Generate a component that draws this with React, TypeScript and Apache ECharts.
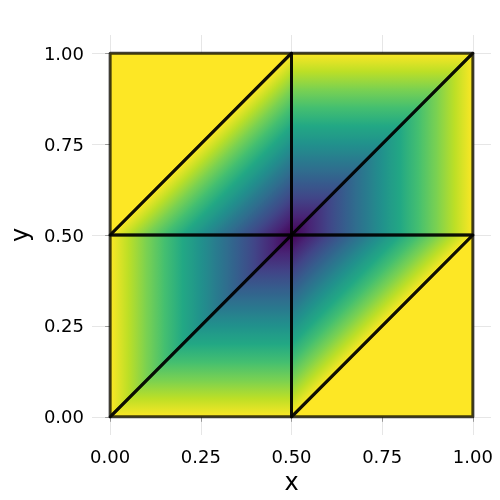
import React, { useEffect, useRef } from "react";
import * as echarts from "echarts";

// Mesh nodes (3x3 grid) and the nodal values of the field
const nodeX = [0, 0.5, 1, 0, 0.5, 1, 0, 0.5, 1];
const nodeY = [0, 0, 0, 0.5, 0.5, 0.5, 1, 1, 1];
const nodeValue = [0, 0, 0, 0, 1, 0, 0, 0, 0];
// Triangles as node index triples
const triangles = [
  [0, 1, 4],
  [0, 4, 3],
  [1, 2, 5],
  [1, 5, 4],
  [3, 4, 7],
  [3, 7, 6],
  [4, 5, 8],
  [4, 8, 7],
];
const tickValues = [0, 0.25, 0.5, 0.75, 1];

// viridis samples (t = 0..1)
const viridis = [
  "#440154", "#482475", "#414487", "#355f8d", "#2a788e", "#21918c",
  "#22a884", "#44bf70", "#7ad151", "#bddf26", "#fde725",
];

function hexToRgb(h: string) {
  return [parseInt(h.slice(1, 3), 16), parseInt(h.slice(3, 5), 16), parseInt(h.slice(5, 7), 16)];
}
function viridisAt(t: number) {
  t = Math.max(0, Math.min(1, t));
  const n = viridis.length - 1;
  const i = Math.min(n - 1, Math.floor(t * n));
  const f = t * n - i;
  const a = hexToRgb(viridis[i]);
  const b = hexToRgb(viridis[i + 1]);
  const c = a.map((v, k) => Math.round(v + (b[k] - v) * f));
  return `rgb(${c[0]},${c[1]},${c[2]})`;
}
// value 1 -> dark purple, value 0 -> yellow
const colorOf = (v: number) => viridisAt(1 - v);

const triData = triangles.map((t) => {
  const row: number[] = [];
  t.forEach((n) => row.push(nodeX[n], nodeY[n], nodeValue[n]));
  return row;
});

export default function App() {
  const ref = useRef<HTMLDivElement>(null);
  useEffect(() => {
    if (!ref.current) return;
    const chart = echarts.init(ref.current, undefined, { renderer: "svg" });

    const fillItem = (params: any, api: any) => {
      const p = [0, 1, 2].map((k) => api.coord([api.value(3 * k), api.value(3 * k + 1)]));
      const v = [0, 1, 2].map((k) => api.value(3 * k + 2) as number);
      const e1 = [p[1][0] - p[0][0], p[1][1] - p[0][1]];
      const e2 = [p[2][0] - p[0][0], p[2][1] - p[0][1]];
      const d1 = v[1] - v[0];
      const d2 = v[2] - v[0];
      const det = e1[0] * e2[1] - e1[1] * e2[0];
      const gx = (d1 * e2[1] - d2 * e1[1]) / det;
      const gy = (e1[0] * d2 - e2[0] * d1) / det;
      const g2 = gx * gx + gy * gy;
      let fill: any;
      if (g2 < 1e-12) {
        fill = colorOf(v[0]);
      } else {
        let iMin = 0;
        for (let k = 1; k < 3; k++) if (v[k] < v[iMin]) iMin = k;
        const vmin = v[iMin];
        const vmax = Math.max(v[0], v[1], v[2]);
        const s = (vmax - vmin) / g2;
        const S = p[iMin];
        const E = [S[0] + gx * s, S[1] + gy * s];
        const stops = [];
        const N = 40;
        for (let i = 0; i <= N; i++) {
          stops.push({ offset: i / N, color: colorOf(vmin + ((vmax - vmin) * i) / N) });
        }
        fill = new echarts.graphic.LinearGradient(S[0], S[1], E[0], E[1], stops, true);
      }
      return {
        type: "polygon",
        shape: { points: p },
        style: { fill, stroke: fill, lineWidth: 0.6 },
      };
    };

    const strokeItem = (params: any, api: any) => {
      const p = [0, 1, 2].map((k) => api.coord([api.value(3 * k), api.value(3 * k + 1)]));
      return {
        type: "polygon",
        shape: { points: p },
        style: { fill: "none", stroke: "rgba(0,0,0,0.75)", lineWidth: 3, lineJoin: "round" },
      };
    };

    const axisCommon = {
      type: "value",
      min: -0.05,
      max: 1.05,
      axisLine: { show: false },
      axisTick: {
        show: true,
        customValues: tickValues,
        length: 5,
        lineStyle: { color: "#9a9a9a", width: 1 },
      },
      splitLine: { show: true, lineStyle: { color: "#e6e6e6", width: 1 } },
      nameLocation: "middle",
      nameTextStyle: { fontFamily: "DejaVu Sans", fontSize: 24, color: "#000" },
    };

    const labelCommon = {
      customValues: tickValues,
      formatter: (v: number) => v.toFixed(2),
      fontFamily: "DejaVu Sans",
      fontSize: 18,
      color: "#000",
    };

    chart.setOption({
      animation: false,
      grid: { left: 91, right: 9, top: 35, bottom: 65 },
      xAxis: {
        ...axisCommon,
        name: "x",
        nameGap: 32,
        axisLabel: { ...labelCommon, margin: 12 },
      },
      yAxis: {
        ...axisCommon,
        name: "y",
        nameGap: 60,
        axisLabel: { ...labelCommon, margin: 8 },
      },
      series: [
        {
          type: "custom",
          renderItem: fillItem,
          data: triData,
          clip: false,
          silent: true,
        },
        {
          type: "custom",
          renderItem: strokeItem,
          data: triData,
          clip: false,
          silent: true,
        },
      ],
    });
    return () => chart.dispose();
  }, []);
  return (
    <div
      ref={ref}
      style={{ position: "fixed", left: 0, top: 0, width: 500, height: 500 }}
    />
  );
}
